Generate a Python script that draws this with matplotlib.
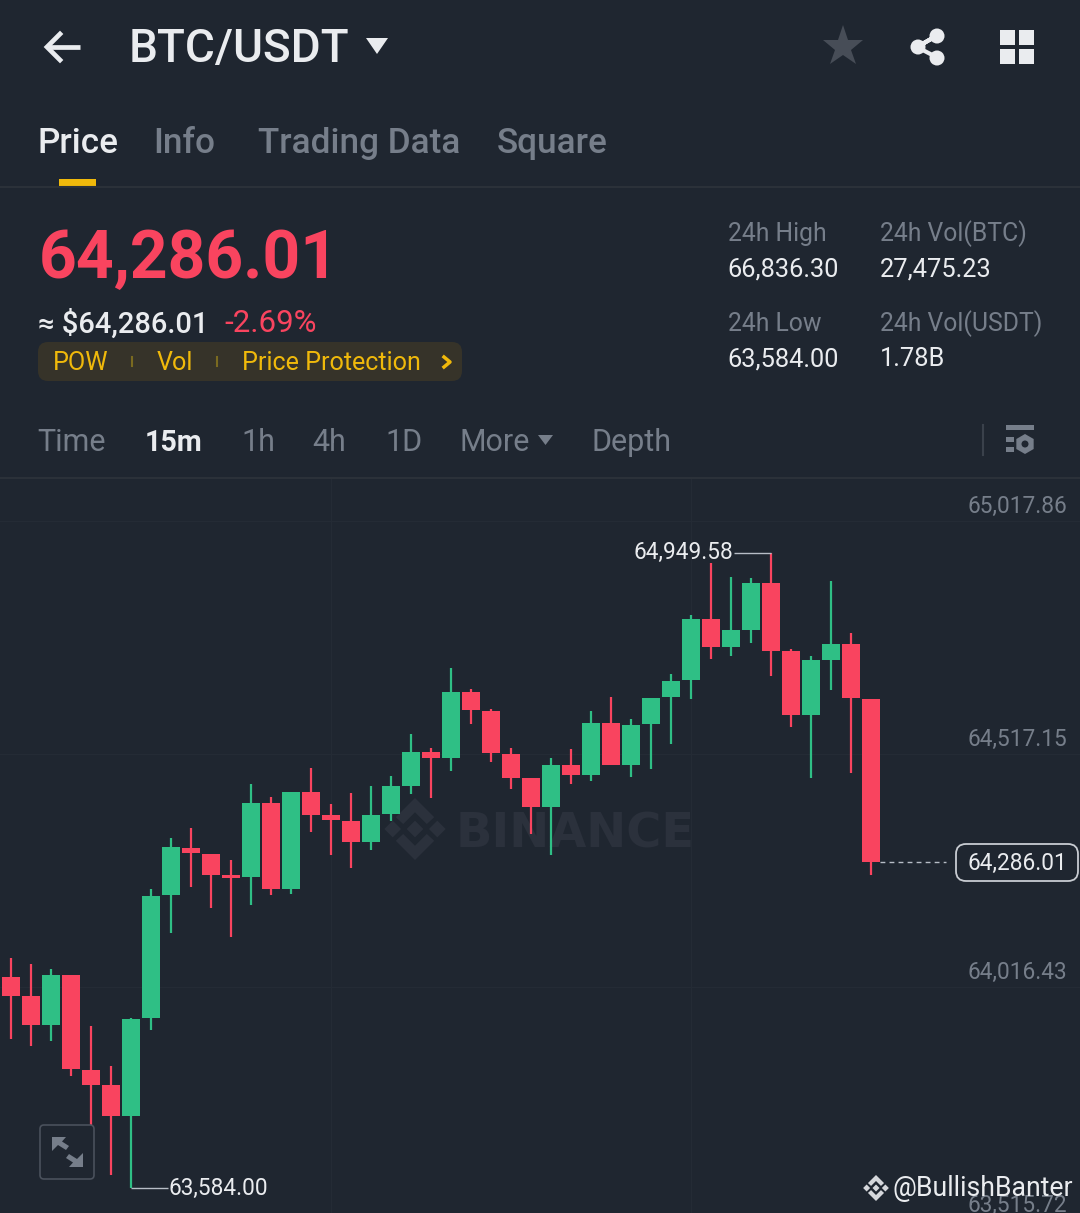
import matplotlib
matplotlib.use("Agg")
import matplotlib.pyplot as plt
from matplotlib.patches import FancyBboxPatch, Polygon, Circle, Rectangle, RegularPolygon

plt.rcParams['font.family'] = ['Roboto', 'DejaVu Sans']

BG = '#1F2630'
RED = '#F9445F'
GREEN = '#2FBF85'
GRID = '#242B35'
GREY = '#767E8A'
WHITE = '#EAECEF'
YELLOW = '#F0B90B'

# 15m candles
opens = [64039.0, 63996.9, 63935.6, 64043.1, 63839.1, 63805.0, 63739.7, 63949.8, 64214.8, 64316.2, 64303.3,
         64257.1, 64252.0, 64411.9, 64226.0, 64434.9, 64386.0, 64373.8, 64329.1, 64387.6, 64449.0, 64522.0,
         64507.9, 64649.7, 64609.6, 64517.8, 64466.2, 64402.6, 64494.2, 64472.0, 64584.4, 64494.2, 64581.0,
         64639.0, 64675.5, 64806.6, 64747.0, 64784.2, 64884.0, 64737.8, 64601.0, 64718.5, 64754.2, 64636.0]
closes = [63997.7, 63935.6, 64043.1, 63840.2, 63805.8, 63739.7, 63948.5, 64212.8, 64317.3, 64304.4, 64258.0,
          64251.1, 64411.9, 64226.0, 64434.9, 64386.7, 64374.7, 64329.1, 64386.7, 64448.4, 64522.0, 64507.9,
          64649.7, 64611.0, 64519.3, 64466.2, 64402.6, 64493.5, 64472.0, 64584.4, 64494.2, 64580.1, 64638.1,
          64674.0, 64806.6, 64747.0, 64783.6, 64884.0, 64739.1, 64601.0, 64718.5, 64754.2, 64636.9, 64286.01]
highs = [64079.2, 64066.1, 64056.2, 64043.1, 63932.6, 63847.1, 63950.7, 64226.0, 64336.4, 64357.5, 64303.3,
         64289.4, 64452.9, 64423.9, 64434.9, 64487.0, 64409.7, 64432.9, 64448.4, 64470.5, 64560.1, 64529.4,
         64701.3, 64656.2, 64613.9, 64529.4, 64466.2, 64509.2, 64527.9, 64610.2, 64640.3, 64591.7, 64638.1,
         64689.7, 64815.2, 64926.9, 64898.2, 64894.7, 64949.58, 64742.1, 64727.8, 64888.9, 64776.6, 64636.0]
lows = [63905.3, 63889.4, 63900.4, 63825.2, 63713.4, 63612.0, 63584.0, 63923.4, 64132.5, 64232.0, 64186.6,
        64124.3, 64192.6, 64214.8, 64216.9, 64349.5, 64300.1, 64271.7, 64310.8, 64373.2, 64431.2, 64422.6,
        64480.6, 64581.0, 64500.6, 64441.9, 64344.6, 64300.1, 64452.7, 64458.5, 64494.2, 64467.7, 64485.6,
        64538.6, 64635.3, 64721.3, 64728.4, 64755.6, 64684.8, 64575.2, 64466.2, 64654.7, 64475.7, 64256.5]

price_ticks = [65017.86, 64517.15, 64016.43, 63515.72]
price_labels = ['65,017.86', '64,517.15', '64,016.43', '63,515.72']
time_ticks = [16, 34]

tabs = ['Price', 'Info', 'Trading Data', 'Square']
tab_x = [37.5, 153.5, 258, 497]
intervals = ['Time', '15m', '1h', '4h', '1D', 'More', 'Depth']
interval_x = [37, 145, 241, 312, 385, 460, 592]

fig = plt.figure(figsize=(10.8, 12.13), dpi=100, facecolor=BG)

# chart part, x index 0 sits at pixel 11 and one candle is 20 px
ax = fig.add_axes([0, 0, 1, 734 / 1213], zorder=1)
ax.set_facecolor('none')
for s in ax.spines.values():
    s.set_visible(False)
ax.tick_params(length=0, labelleft=False, labelbottom=False)
ax.set_yticks(price_ticks)
ax.set_xticks(time_ticks)
# limits after the ticks, set_yticks widens the view otherwise
ax.set_xlim(-0.55, 53.45)
ax.set_ylim(63530.8, 65108.1)
ax.grid(True, color=GRID, lw=1)
ax.set_axisbelow(True)

for i in range(len(opens)):
    c = GREEN if closes[i] > opens[i] else RED
    ax.vlines(i, lows[i], highs[i], color=c, lw=1.6, zorder=3)
    ax.bar(i, abs(closes[i] - opens[i]), bottom=min(opens[i], closes[i]), width=0.86, color=c, zorder=3)

# top/bottom price markers
ax.hlines(highs[38], 36.15, 38, color='#B7BDC6', lw=1, zorder=4)
ax.hlines(lows[6], 6, 7.85, color='#B7BDC6', lw=1, zorder=4)
ax.text(36.1, highs[38], '64,949.58', color=WHITE, fontsize=16.3, ha='right', va='center', zorder=5)
ax.text(7.9, lows[6], '63,584.00', color=WHITE, fontsize=16.3, ha='left', va='center', zorder=5)
ax.hlines(closes[-1], 43.45, 46.75, color='#B7BDC6', lw=1, linestyles=(0, (3.5, 3)), zorder=4)

# pixel axes on top for the app screen around the chart
ui = fig.add_axes([0, 0, 1, 1], zorder=2)
ui.set_xlim(0, 1080)
ui.set_ylim(1213, 0)
ui.axis('off')
ui.patch.set_alpha(0)


def txt(x, y, s, color=WHITE, size=16, weight='normal', ha='left'):
    return ui.text(x, y + 2, s, color=color, fontsize=size, fontweight=weight, ha=ha, va='center')


def base_txt(x, y, s, color=WHITE, size=16, weight='normal'):
    # y is the baseline, for rows where descenders would shift a centred label
    return ui.text(x, y, s, color=color, fontsize=size, fontweight=weight, ha='left', va='baseline')


def diamond_logo(target, cx, cy, r, color, zorder=0):
    # four small squares round a centre one, drawn as rotated polygons
    a = r * 0.27
    for dx, dy in [(0, 0), (-r * 0.72, 0), (r * 0.72, 0)]:
        target.add_patch(Polygon([(cx + dx - a, cy + dy), (cx + dx, cy + dy - a), (cx + dx + a, cy + dy), (cx + dx, cy + dy + a)],
                                 color=color, lw=0, zorder=zorder, transform=ui.transData, clip_on=False))
    for sign in (-1, 1):
        target.add_patch(Polygon([(cx, cy + sign * r), (cx + r * 0.62, cy + sign * r * 0.38), (cx + r * 0.38, cy + sign * r * 0.16),
                                  (cx, cy + sign * r * 0.54), (cx - r * 0.38, cy + sign * r * 0.16), (cx - r * 0.62, cy + sign * r * 0.38)],
                                 color=color, lw=0, zorder=zorder, transform=ui.transData, clip_on=False))


# header
ui.plot([47, 80], [47, 47], color=WHITE, lw=3.4, solid_capstyle='butt')
ui.plot([60, 47, 60], [34, 47, 60], color=WHITE, lw=3.4, solid_joinstyle='miter')
txt(129, 47, 'BTC/USDT', size=33, weight='medium')
ui.add_patch(Polygon([(366, 38), (388, 38), (377, 54)], color=WHITE, lw=0))
ui.plot([843], [47], marker='*', ms=31, color='#474D57', mew=0)
ui.plot([917, 938, 917, 938], [47, 35, 47, 58], color=WHITE, lw=3)
for cx, cy in [(918, 47), (937, 36), (937, 58)]:
    ui.add_patch(Circle((cx, cy), 7.5, color=WHITE, lw=0))
for x0, y0, w, h in [(1000, 30, 15, 15), (1019, 30, 15, 15), (1000, 49, 15, 15), (1019, 49, 15, 15)]:
    ui.add_patch(Rectangle((x0, y0), w, h, color=WHITE, lw=0))

# tabs
for i, (lab, x) in enumerate(zip(tabs, tab_x)):
    base_txt(x, 153, lab, color=WHITE if i == 0 else GREY, size=25.3, weight='medium')
ui.add_patch(Rectangle((59, 179), 37, 7, color=YELLOW, lw=0))
ui.plot([0, 1080], [187, 187], color='#2B3139', lw=1.5)

# price block
txt(39, 258, '64,286.01', color=RED, size=47.5, weight='bold')
txt(38, 322, '≈ $64,286.01', size=21, weight='medium')
txt(224, 322, '-2.69%', color=RED, size=22.5)
ui.add_patch(FancyBboxPatch((38, 342), 424, 39, boxstyle='round,pad=0,rounding_size=10', fc='#363329', ec='none'))
base_txt(53, 370, 'POW', color=YELLOW, size=18.1)
base_txt(157, 370, 'Vol', color=YELLOW, size=18.1)
base_txt(242, 370, 'Price Protection', color=YELLOW, size=18.1)
for x in (132, 217):
    ui.plot([x, x], [357, 366], color='#7A6A20', lw=1.5)
ui.plot([444, 450, 444], [357, 362, 367], color=YELLOW, lw=2.5)

# 24h stats
txt(728, 232, '24h High', color=GREY, size=17.8)
txt(727, 267, '66,836.30', size=18.3)
txt(880, 232, '24h Vol(BTC)', color=GREY, size=17.8)
txt(880, 267, '27,475.23', size=18.3)
txt(728, 322, '24h Low', color=GREY, size=17.8)
txt(727, 357, '63,584.00', size=18.3)
txt(880, 322, '24h Vol(USDT)', color=GREY, size=17.8)
txt(880, 357, '1.78B', size=18.3)

# interval row
for i, (lab, x) in enumerate(zip(intervals, interval_x)):
    if i == 1:
        base_txt(x, 451, lab, size=20.7, weight='bold')
    else:
        base_txt(x, 451, lab, color=GREY, size=22)
ui.add_patch(Polygon([(538, 435), (553, 435), (545.5, 445)], color=GREY, lw=0))
ui.plot([983, 983], [425, 455], color='#3A414B', lw=1.5)
ui.add_patch(Rectangle((1006, 425), 28, 5, color=GREY, lw=0))
ui.add_patch(Rectangle((1006, 437), 8, 5, color=GREY, lw=0))
ui.add_patch(Rectangle((1006, 447), 8, 5, color=GREY, lw=0))
ui.add_patch(RegularPolygon((1025, 444), 6, radius=10, color=GREY, lw=0))
ui.add_patch(Circle((1025, 444), 3.5, color=BG, lw=0))
ui.plot([0, 1080], [478, 478], color='#2B3139', lw=1.5)

# watermark goes under the candles
ax.text(456, 834, 'BINANCE', color='#2B313C', fontsize=34.5, fontweight='bold', ha='left', va='center',
        family='DejaVu Sans', transform=ui.transData, zorder=1.5)
diamond_logo(ax, 415, 829, 31, '#2B313C', zorder=1.5)

# y labels sit just above their grid line
for p, lab in zip(price_ticks, price_labels):
    ax.annotate(lab, (1067, p), xycoords=('figure pixels', 'data'), xytext=(0, 10.8), textcoords='offset points',
                color=GREY, fontsize=16.3, ha='right', va='center', zorder=5, annotation_clip=False)

# current price box
ui.add_patch(FancyBboxPatch((956, 844), 122, 37, boxstyle='round,pad=0,rounding_size=10', fc=BG, ec='#C8CCD2', lw=1.3))
txt(1017.5, 861, '64,286.01', size=16.3, ha='center')

# expand button
ui.add_patch(FancyBboxPatch((40, 1125), 54, 54, boxstyle='round,pad=0,rounding_size=4', fc=BG, ec='#4A515C', lw=1.2))
ui.add_patch(Polygon([(52, 1137), (66, 1137), (62, 1141.5), (69, 1146), (66, 1150), (58, 1145), (52, 1151)], color=GREY, lw=0))
ui.add_patch(Polygon([(83, 1167), (69, 1167), (73, 1162.5), (66, 1158), (69, 1154), (77, 1159), (83, 1153)], color=GREY, lw=0))

# repost credit
diamond_logo(ui, 876, 1188, 13, '#D5D7DB', zorder=6)
t = txt(893, 1186, '@BullishBanter', size=19.2)
t.set_zorder(6)

fig.savefig('out.png', dpi=100, facecolor=BG)
